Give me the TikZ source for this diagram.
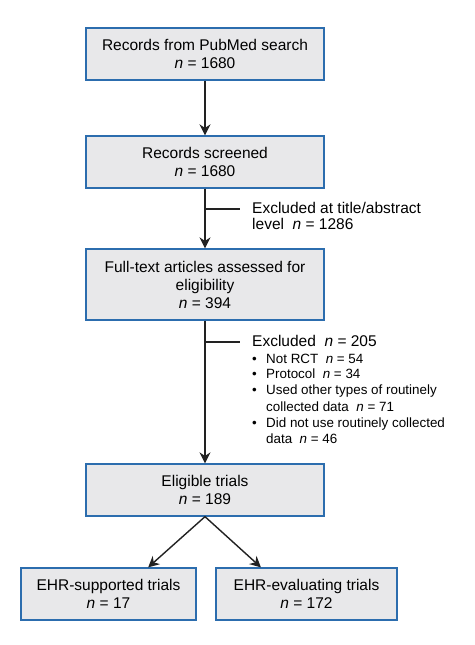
\documentclass[tikz,border=0pt]{standalone}
\usepackage{fontspec}
\setmainfont{Liberation Sans}
\usetikzlibrary{arrows.meta,calc}
\definecolor{boxfill}{HTML}{E8E8EA}
\definecolor{boxline}{HTML}{2C6DAE}
\definecolor{linegray}{HTML}{222222}
\tikzset{
  box/.style={draw=boxline, fill=boxfill, line width=1.3pt, minimum height=52pt,
    inner sep=0pt, align=center, font=\fontsize{15.5}{18}\selectfont},
  arr/.style={line width=1.4pt, draw=linegray, -{Stealth[length=11pt,width=11pt]}},
  branch/.style={line width=1.4pt, draw=linegray},
  note/.style={anchor=base west, inner sep=0pt, font=\fontsize{15.5}{16.5}\selectfont},
  small/.style={anchor=base west, inner sep=0pt, font=\fontsize{13.4}{16}\selectfont}
}
\begin{document}
\begin{tikzpicture}[x=1pt,y=-1pt]
\useasboundingbox (0,0) rectangle (474,645);
\fill[white] (0,0) rectangle (474,645);

\node[box, minimum width=238pt] (b1) at (205,54) {Records from PubMed search\\\textit{n} = 1680};
\node[box, minimum width=238pt] (b2) at (205,162) {Records screened\\\textit{n} = 1680};
\node[box, minimum width=238pt, minimum height=71pt] (b3) at (205,284.5) {Full-text articles assessed for\\eligibility\\\textit{n} = 394};
\node[box, minimum width=238pt] (b4) at (205,490) {Eligible trials\\\textit{n} = 189};
\node[box, minimum width=175pt] (b5) at (108.5,594) {EHR-supported trials\\\textit{n} = 17};
\node[box, minimum width=181pt] (b6) at (306.5,594) {EHR-evaluating trials\\\textit{n} = 172};

\draw[arr] (b1) -- (b2);
\draw[arr] (b2) -- (b3);
\draw[arr] (b3) -- (b4);
\draw[arr] (b4.south) -- ($(b5.north)!0.45!(b5.north east)$);
\draw[arr] (b4.south) -- ($(b6.north west)!0.5!(b6.north)$);

\coordinate (j1) at (205,209);
\coordinate (e1) at (240,209);
\draw[branch] (j1) -- (e1);
\coordinate (j2) at (205,342);
\coordinate (e2) at (240,342);
\draw[branch] (j2) -- (e2);

\node[note] (t1a) at (252,213) {Excluded at title/abstract};
\node[note] (t1b) at (252,229) {level\ \ \textit{n} = 1286};

\node[note] (t2) at (252,346) {Excluded\ \ \textit{n} = 205};
\node[small] (u1) at (252,363) {•};
\node[small] (l1) at (266,363) {Not RCT\ \ \textit{n} = 54};
\node[small] (u2) at (252,378) {•};
\node[small] (l2) at (266,378) {Protocol\ \ \textit{n} = 34};
\node[small] (u3) at (252,394) {•};
\node[small] (l3) at (266,394) {Used other types of routinely};
\node[small] (l3b) at (266,411) {collected data\ \ \textit{n} = 71};
\node[small] (u4) at (252,427) {•};
\node[small] (l4) at (266,427) {Did not use routinely collected};
\node[small] (l4b) at (266,443) {data\ \ \textit{n} = 46};
\end{tikzpicture}
\end{document}
